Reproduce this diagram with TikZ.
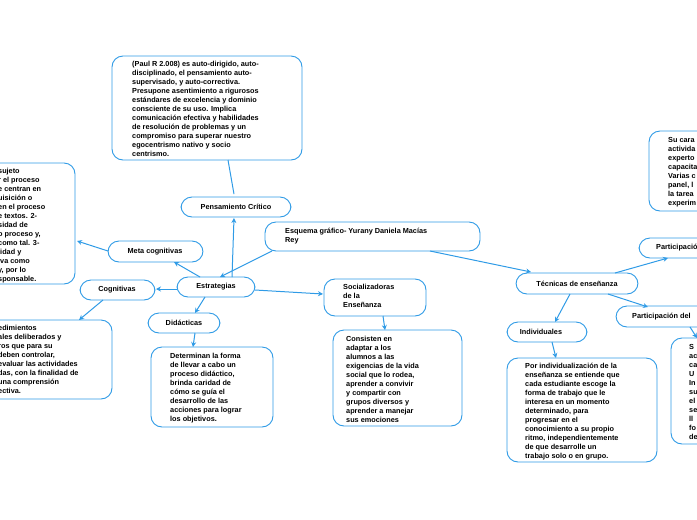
\documentclass[tikz,border=0pt]{standalone}
\usepackage{fontspec}
\setmainfont{Liberation Sans}
\usetikzlibrary{arrows.meta}
\definecolor{bl}{HTML}{2F9BE6}
\tikzset{
 bx/.style={draw=bl,line width=0.9pt,rounded corners=11pt,fill=white},
 tx/.style={font=\bfseries\fontsize{7.3}{9}\selectfont,align=left,anchor=north west,inner sep=0pt},
 lb/.style={font=\bfseries\fontsize{7.3}{9}\selectfont,inner sep=0pt},
 ar/.style={draw=bl,line width=1pt,-{Stealth[length=5pt,width=5pt]}},
 ln/.style={draw=bl,line width=1pt}
}
\begin{document}
\begin{tikzpicture}[x=1pt,y=-1pt]
\useasboundingbox (0,0) rectangle (697,520);
\clip (0,0) rectangle (697,520);
% boxes
\draw[bx] (112,56) rectangle (302,160);
\node[tx] (paul) at (132,61) {(Paul R 2.008) es auto-dirigido, auto-\\disciplinado, el pensamiento auto-\\supervisado, y auto-correctiva.\\Presupone asentimiento a rigurosos\\estándares de excelencia y dominio\\consciente de su uso. Implica\\comunicación efectiva y habilidades\\de resolución de problemas y un\\compromiso para superar nuestro\\egocentrismo nativo y socio\\centrismo.};
\draw[bx] (181,197) rectangle (291,217); \node[lb] (pc) at (236,207) {Pensamiento Crítico};
\draw[bx] (265,222) rectangle (480,251);
\node[tx] (esq) at (285,228) {Esquema gráfico- Yurany Daniela Macías\\Rey};
\draw[bx] (108,241) rectangle (203,262); \node[lb] (meta) at (155,252) {Meta cognitivas};
\draw[bx] (-30,163) rectangle (75,284);
\node[tx] (lt) at (-2,168) {sujeto\\r el proceso\\e centran en\\uisición o\\ en el proceso\\e textos. 2-\\sidad de\\o proceso y,\\como tal. 3-\\lidad y\\iva como\\y, por lo\\sponsable.};
\draw[bx] (80,280) rectangle (155,300); \node[lb] (cog) at (117,290) {Cognitivas};
\draw[bx] (177,277) rectangle (255,297); \node[lb] (est) at (216,287) {Estrategias};
\draw[bx] (148,313) rectangle (220,333); \node[lb] (did) at (184,323) {Didácticas};
\draw[bx] (324,279) rectangle (426,316);
\node[tx] (soc) at (343,284) {Socializadoras\\de la\\Enseñanza};
\draw[bx] (-30,320) rectangle (112,399);
\node[tx] (lb) at (-2,325) {edimientos\\ales deliberados y\\ros que para su\\ deben controlar,\\evaluar las actividades\\das, con la finalidad de\\una comprensión\\ectiva.};
\draw[bx] (151,347) rectangle (273,427);
\node[tx] (didt) at (170,353) {Determinan la forma\\de llevar a cabo un\\proceso didáctico,\\brinda caridad de\\cómo se guía el\\desarrollo de las\\acciones para lograr\\los objetivos.};
\draw[bx] (333,330) rectangle (462,426);
\node[tx] (soct) at (346,336) {Consisten en\\adaptar a los\\alumnos a las\\exigencias de la vida\\social que lo rodea,\\aprender a convivir\\y compartir con\\grupos diversos y\\aprender a manejar\\sus emociones};
\draw[bx] (516,273) rectangle (638,294); \node[lb] (tec) at (577,284) {Técnicas de enseñanza};
\draw[bx] (507,322) rectangle (587,342); \node[lb] (ind) at (541,332) {Individuales};
\draw[bx] (507,358) rectangle (657,462);
\node[tx] (indt) at (525,363) {Por individualización de la\\enseñanza se entiende que\\cada estudiante escoge la\\forma de trabajo que le\\interesa en un momento\\determinado, para\\progresar en el\\conocimiento a su propio\\ritmo, independientemente\\de que desarrolle un\\trabajo solo o en grupo.};
\draw[bx] (639,238) rectangle (730,258); \node[lb,anchor=west] (pa) at (656,248) {Participación};
\draw[bx] (616,306) rectangle (730,327); \node[lb,anchor=west] (pd) at (632,317) {Participación del};
\draw[bx] (649,131) rectangle (730,211);
\node[tx] (tr) at (668,137) {Su cara\\activida\\experto\\capacita\\Varias c\\panel, l\\la tarea\\experim};
\draw[bx] (671,338) rectangle (730,444);
\node[tx] (br) at (689,344) {S\\ac\\ca\\U\\In\\su\\el\\se\\ll\\fo\\de};
% connectors
\coordinate (ptop) at (228,160);
\draw[ln] (pc.north) ++(-2,-10) -- (ptop);
\draw[ar] (232,277) -- (234,218);
\draw[ar] (200,277) -- (174,262);
\draw[ar] (177,289) -- (156,289);
\draw[ar] (205,297) -- (195,313);
\draw[ar] (255,290) -- (323,294);
\draw[ar] (272,251) -- (220,277);
\draw[ar] (108,251) -- (77,241);
\draw[ar] (103,300) -- (79,320);
\draw[ar] (195,333) -- (193,347);
\draw[ar] (383,316) -- (385,330);
\draw[ar] (430,251) -- (531,272);
\draw[ar] (615,273) -- (668,258);
\draw[ar] (608,294) -- (648,307);
\draw[ar] (570,294) -- (555,322);
\draw[ar] (552,342) -- (556,358);
\draw[ar] (690,327) -- (697,338);
\end{tikzpicture}
\end{document}
